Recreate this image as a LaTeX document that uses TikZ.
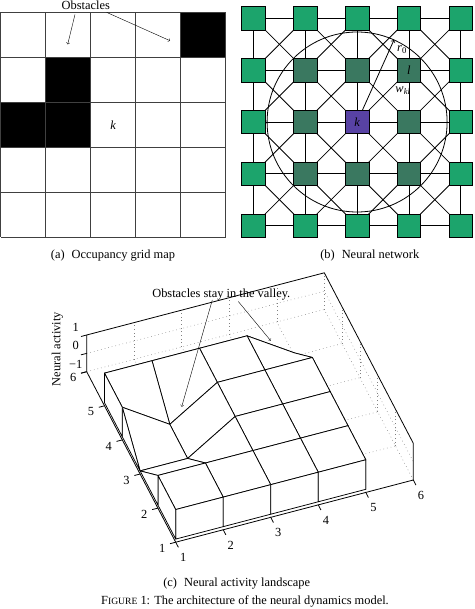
\documentclass[tikz,border=0pt]{standalone}
\usepackage{fontspec}
\setmainfont{Liberation Serif}
\usetikzlibrary{backgrounds,calc}
\definecolor{outgreen}{RGB}{28,164,108}
\definecolor{ingreen}{RGB}{58,120,96}
\definecolor{kpurple}{RGB}{88,66,164}
\tikzset{
  gridline/.style={draw=black!75, line width=0.8pt},
  neuron/.style={draw, line width=0.6pt, minimum size=23.5pt, inner sep=0pt, fill=outgreen},
  inneur/.style={neuron, fill=ingreen},
  kneur/.style={neuron, fill=kpurple},
  link/.style={line width=0.8pt},
  grd/.style={gray, line width=0.5pt, dash pattern=on 0.7pt off 3pt},
  meshface/.style={fill=white, draw=black, line width=0.75pt, line join=round},
}
% activity value on the 5x5 mesh (obstacles sit low)
\pgfmathdeclarefunction{actv}{2}{%
  \pgfmathparse{(((#1==5)&&(#2==5))||((#1==2)&&(#2>2)&&(#2<5))||((#1==1)&&(#2==3))) ? -0.83 : 0.78}}

\begin{document}
\begin{tikzpicture}[x=1pt, y=-1pt, font=\fontsize{12.4}{14.5}\selectfont]
    \useasboundingbox (0,0) rectangle (474,609);

    % (a) occupancy grid
    \fill (180.8,12.5) rectangle (225.8,57.5);
    \fill (45.8,57.5) rectangle (90.8,147.5);
    \fill (0.8,102.5) rectangle (45.8,147.5);
    \foreach \i in {0,...,5} {
        \draw[gridline] (0.8+\i*45,12.5) -- (0.8+\i*45,237.5);
        \draw[gridline] (0.8,12.5+\i*45) -- (225.8,12.5+\i*45);
    }
    \node (kcell) at (113.3,125) {\textit{k}};
    \node[anchor=base] (obst) at (85.8,9.4) {Obstacles};
    \coordinate (obsA) at (67.7,44.3);
    \coordinate (obsB) at (170,40.7);
    \draw[->] ([xshift=-10.8pt,yshift=-5pt]obst.base) -- (obsA);
    \draw[->] ([xshift=20.9pt,yshift=-3pt]obst.base) -- (obsB);
    \node[anchor=base] (capa) at (113,258.5) {(a)\hspace{7pt}Occupancy grid map};

    % (b) neural network
    \foreach \c in {0,...,4}
        \foreach \r in {0,...,4} {
            \pgfmathtruncatemacro\ring{max(abs(\c-2),abs(\r-2))}
            \ifcase\ring \def\sty{kneur}\or \def\sty{inneur}\else \def\sty{neuron}\fi
            \node[\sty] (n-\c-\r) at (253.5+\c*51.8, 18.4+\r*51.8) {};
        }
    \node (klab) at (n-2-2) {\textit{k}};
    \node (llab) at (n-3-1) {\textit{l}};
    \coordinate (r0end) at ($(n-2-2.center)+(-65.8:90)$);
    \begin{pgfonlayer}{background}
        \foreach \c in {0,...,3}
            \foreach \r in {0,...,4} {
                \pgfmathtruncatemacro\cc{\c+1}
                \draw[link] (n-\c-\r.center) -- (n-\cc-\r.center);
                \draw[link] (n-\r-\c.center) -- (n-\r-\cc.center);
            }
        \foreach \c in {0,...,3}
            \foreach \r in {0,...,3} {
                \pgfmathtruncatemacro\cc{\c+1}
                \pgfmathtruncatemacro\rr{\r+1}
                \draw[link] (n-\c-\r.center) -- (n-\cc-\rr.center);
                \draw[link] (n-\cc-\r.center) -- (n-\c-\rr.center);
            }
        \draw[link] (n-2-2.center) circle[radius=90];
        \draw[link,->] (n-2-2.center) -- (r0end);
    \end{pgfonlayer}
    \node (r0lab) at (402,50) {\textit{r}\textsubscript{0}};
    \node (wkl) at (403,90.7) {\textit{w}\textsubscript{\textit{kl}}};
    \node[anchor=base] (capb) at (369.8,258.5) {(b)\hspace{7pt}Neural network};

    % (c) activity landscape
    \begin{scope}[shift={(145.98,570.39)}, x={(47.52pt,12.44pt)}, y={(-17.8pt,34.1pt)}, z={(0pt,18.35pt)}]
        % back planes
        \foreach \t in {2,...,6} {
            \draw[grd] (\t,6,-1) -- (\t,6,1);
            \draw[grd] (6,\t,-1) -- (6,\t,1);
            \draw[grd] (\t,1,-1) -- (\t,6,-1);
            \draw[grd] (1,\t,-1) -- (6,\t,-1);
        }
        \draw[grd] (1,6,0) -- (6,6,0) -- (6,1,0);
        \draw[link] (1,6,-1) -- (1,6,1) -- (6,6,1) -- (6,1,1) -- (6,1,-1);
        \draw[link] (1,6,-1) -- (1,1,-1) -- (6,1,-1);

        \foreach \x in {1,...,5}
            \foreach \y in {1,...,5} {
                \pgfmathsetmacro\zv{actv(\x,\y)}
                \coordinate (s-\x-\y) at (\x,\y,\zv);
                \coordinate (b-\x-\y) at (\x,\y,-0.83);
            }
        % back skirts
        \foreach \x in {1,...,4} {
            \pgfmathtruncatemacro\xx{\x+1}
            \filldraw[meshface] (s-\x-5) -- (s-\xx-5) -- (b-\xx-5) -- (b-\x-5) -- cycle;
            \filldraw[meshface] (s-5-\x) -- (s-5-\xx) -- (b-5-\xx) -- (b-5-\x) -- cycle;
        }
        % mesh, far to near
        \foreach \y in {4,3,2,1}
            \foreach \x in {4,3,2,1} {
                \pgfmathtruncatemacro\xx{\x+1}
                \pgfmathtruncatemacro\yy{\y+1}
                \filldraw[meshface] (s-\x-\y) -- (s-\xx-\y) -- (s-\xx-\yy) -- (s-\x-\yy) -- cycle;
            }
        % front skirts
        \foreach \x in {1,...,4} {
            \pgfmathtruncatemacro\xx{\x+1}
            \filldraw[meshface] (s-\x-1) -- (s-\xx-1) -- (b-\xx-1) -- (b-\x-1) -- cycle;
            \filldraw[meshface] (s-1-\x) -- (s-1-\xx) -- (b-1-\xx) -- (b-1-\x) -- cycle;
        }

        % ticks
        \foreach \t in {1,...,6} {
            \draw[link] (\t,1,-1) -- (\t,0.85,-1);
            \node[xshift=7.6pt, yshift=-15.4pt] (xt\t) at (\t,1,-1) {\t};
            \draw[link] (1,\t,-1) -- (0.88,\t,-1);
            \node[xshift=-13.6pt, yshift=-6.1pt] (yt\t) at (1,\t,-1) {\t};
        }
        \foreach \t/\s in {-1/−1, 0/0, 1/1} {
            \draw[link] (1,6,\t) -- (0.88,6,\t);
            \node[xshift=-11pt, yshift=7.5pt] (zt\t) at (1,6,\t) {\s};
        }
    \end{scope}
    \node[rotate=90] (zlab) at (57.3,349) {Neural activity};
    \node[anchor=base] (valley) at (221.3,297.5) {Obstacles stay in the valley.};
    \coordinate (vA) at (181.7,406.7);
    \coordinate (vB) at (270.7,340.7);
    \draw[->] ([xshift=-9pt,yshift=-2.5pt]valley.base) -- (vA);
    \draw[->] ([xshift=17pt,yshift=-4pt]valley.base) -- (vB);
    \node[anchor=base] (capc) at (236.7,586) {(c)\hspace{7pt}Neural activity landscape};

    \node[anchor=base, inner sep=1pt] (figcap) at (245,604.5)
        {F{\fontsize{9.6}{11}\selectfont IGURE} 1: The architecture of the neural dynamics model.};
\end{tikzpicture}
\end{document}
